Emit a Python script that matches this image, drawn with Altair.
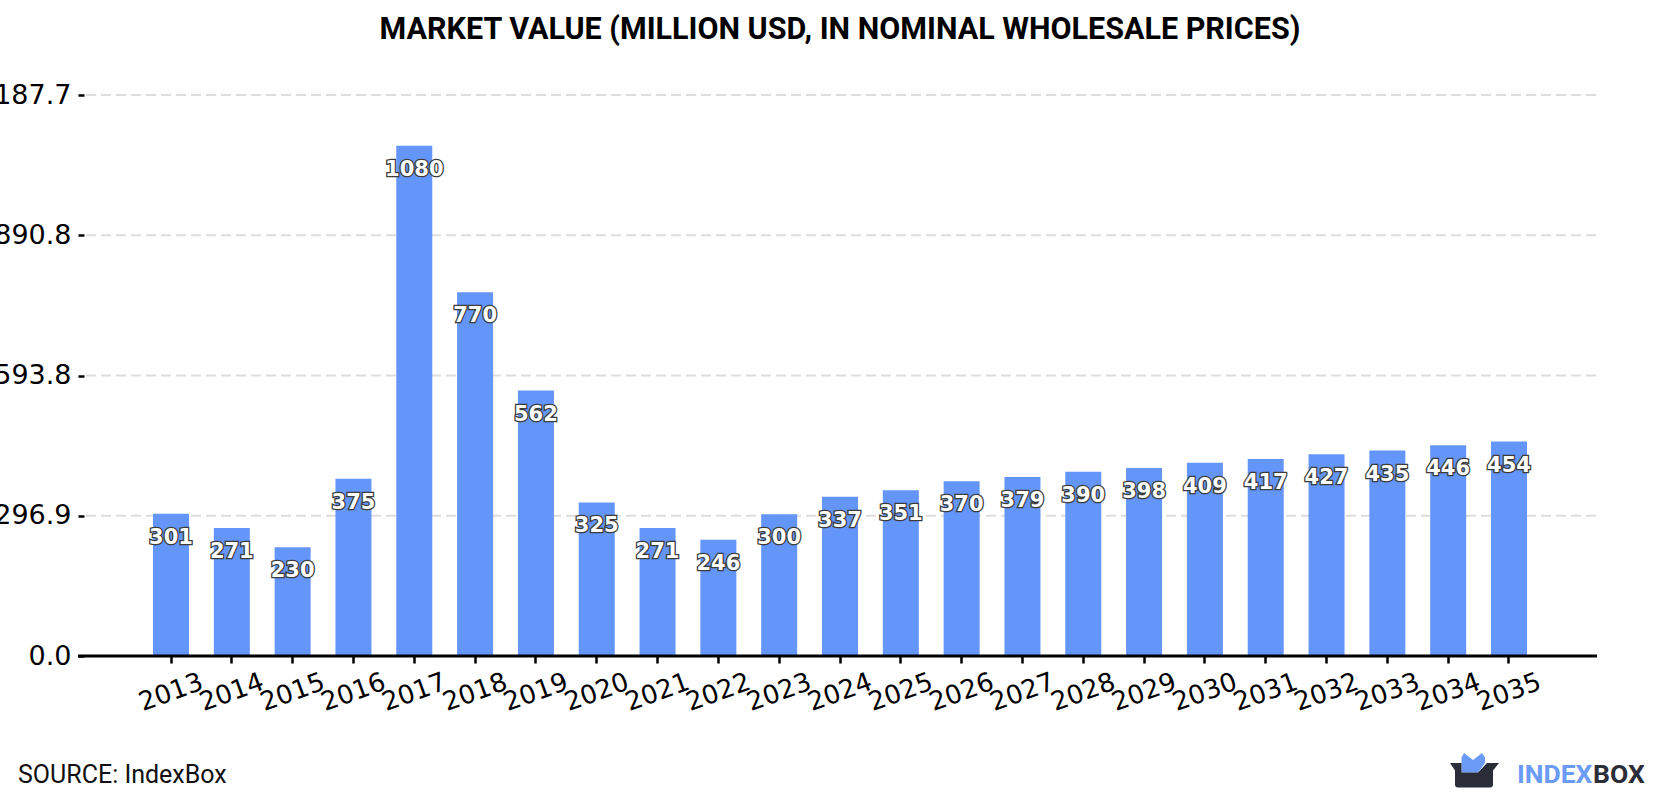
import altair as alt
import pandas as pd

# Market value by year (million USD, nominal wholesale prices)
years = ["2013", "2014", "2015", "2016", "2017", "2018", "2019", "2020", "2021", "2022",
         "2023", "2024", "2025", "2026", "2027", "2028", "2029", "2030", "2031", "2032",
         "2033", "2034", "2035"]
values = [301, 271, 230, 375, 1080, 770, 562, 325, 271, 246,
          300, 337, 351, 370, 379, 390, 398, 409, 417, 427,
          435, 446, 454]
y_ticks = [0.0, 296.9, 593.8, 890.8, 1187.7]

title_text = "MARKET VALUE (MILLION USD, IN NOMINAL WHOLESALE PRICES)"
source_text = "SOURCE: IndexBox"

BAR_COLOR = "#6495f9"
DARK = "#2b2d39"
LOGO_BLUE = "#6a9bf6"

PLOT_W, PLOT_H = 1513, 561

df = pd.DataFrame({"year": years, "value": values})
grid_df = pd.DataFrame({"value": y_ticks})

x_scale = alt.Scale(range=[69, 1443], paddingInner=0.408, paddingOuter=0)
y_scale = alt.Scale(domain=[0, 1187.7], nice=False, zero=True)

x_axis = alt.Axis(
    title=None,
    labelAngle=340,
    labelAlign="center",
    labelBaseline="middle",
    labelPadding=29,
    labelFont="DejaVu Sans",
    labelFontSize=26,
    labelColor="black",
    labelOverlap=False,
    tickSize=7,
    tickWidth=2.5,
    tickColor="black",
    domain=False,
    grid=False,
    zindex=1,
)

y_axis = alt.Axis(
    title=None,
    values=y_ticks,
    format=".1f",
    domain=False,
    tickSize=6,
    tickWidth=2.5,
    tickColor="black",
    labelPadding=7,
    labelFont="DejaVu Sans",
    labelFontSize=27,
    labelColor="black",
    grid=False,
)

x_enc = alt.X("year:N", sort=None, scale=x_scale, axis=x_axis)
y_enc = alt.Y("value:Q", scale=y_scale, axis=y_axis)

# Dashed horizontal gridlines across the whole plot width
grid = alt.Chart(grid_df).mark_rule(
    color="#dddddd", strokeWidth=2, strokeDash=[10, 5]).encode(
    y=y_enc, x=alt.value(2), x2=alt.value(PLOT_W - 1))

base = alt.Chart(df)

bars = base.mark_bar(color=BAR_COLOR).encode(x=x_enc, y=y_enc)

label_style = dict(dy=24, baseline="middle", align="center",
                   font="DejaVu Sans", fontWeight="bold", fontSize=21)

label_outline = base.mark_text(fill="white", stroke="#3c3c3c", strokeWidth=2.6,
                               **label_style).encode(
    x=x_enc, y=y_enc, text=alt.Text("value:Q", format="d"))
label_fill = base.mark_text(fill="white", **label_style).encode(
    x=x_enc, y=y_enc, text=alt.Text("value:Q", format="d"))

# Bottom axis line across the full plot width
axis_line = alt.Chart(pd.DataFrame({"k": [0]})).mark_rule(
    color="black", strokeWidth=3).encode(
    x=alt.value(-6), x2=alt.value(PLOT_W), y=alt.value(PLOT_H))


def note(text, x, y, **kw):
    return alt.Chart(pd.DataFrame({"t": [text]})).mark_text(**kw).encode(
        x=alt.value(x), y=alt.value(y), text="t:N")


title = note(title_text, 756, -65, font="Roboto", fontWeight="bold", fontSize=30.5,
             align="center", baseline="middle", color="black")
source = note(source_text, -66, 680, font="Roboto", fontSize=25,
              align="left", baseline="middle", color="#111111")
logo_index = note("INDEX", 1433, 680, font="Roboto", fontWeight="bold", fontSize=26.5,
                  align="left", baseline="middle", color=LOGO_BLUE)
logo_box = note("BOX", 1509, 680, font="Roboto", fontWeight="bold", fontSize=26.5,
                align="left", baseline="middle", color=DARK)

# Logo icon: blue "ears" behind a dark open box
ears_path = ("M -0.5 0.1 L -0.5 -0.5 L -0.4 -0.68 L -0.04 -0.4 L 0.32 -0.68 "
             "L 0.44 -0.5 L 0.44 -0.28 L 0.16 0.1 Z")
box_path = ("M -0.96 -0.28 L -0.5 -0.28 L -0.5 0.1 L 0.16 0.1 L 0.52 -0.28 "
            "L 1.0 -0.28 L 0.76 0.02 L 0.76 0.58 Q 0.76 0.7 0.64 0.7 L -0.64 0.7 "
            "Q -0.76 0.7 -0.76 0.58 L -0.76 0.02 Z")
icon_df = pd.DataFrame({"k": [0]})
ears = alt.Chart(icon_df).mark_point(shape=ears_path, filled=True, size=2500,
                                     color=LOGO_BLUE, opacity=1, strokeWidth=0).encode(
    x=alt.value(1390), y=alt.value(675))
box = alt.Chart(icon_df).mark_point(shape=box_path, filled=True, size=2500,
                                    color=DARK, opacity=1, strokeWidth=0).encode(
    x=alt.value(1390), y=alt.value(675))

chart = alt.layer(
    grid, bars, axis_line, label_outline, label_fill, title, source, ears, box,
    logo_index, logo_box
).properties(
    width=PLOT_W,
    height=PLOT_H,
    autosize=alt.AutoSizeParams(type="none"),
    padding={"left": 84, "top": 95, "right": 83, "bottom": 144},
    background="white",
).configure_view(stroke=None)

chart.save("out.html", embed_options={"renderer": "svg", "actions": False})
